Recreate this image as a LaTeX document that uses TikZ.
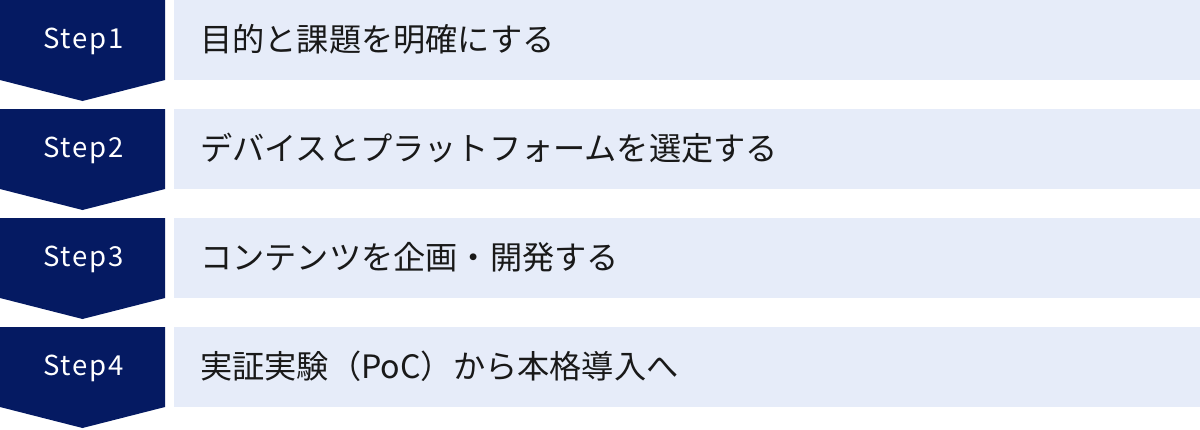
\documentclass[tikz,border=0pt]{standalone}
\usepackage{fontspec}
\setmainfont{Noto Sans CJK JP}
\newfontfamily\stepfont[LetterSpace=7]{Noto Sans CJK JP}
\definecolor{navy}{HTML}{051A62}
\definecolor{barbg}{HTML}{E6ECF9}
\tikzset{
  chev/.style={fill=navy},
  bar/.style={fill=barbg},
  steplabel/.style={text=white, font=\stepfont\fontsize{27.5}{32}\selectfont, inner sep=0pt, anchor=center},
  bartext/.style={text=black!90, font=\fontsize{32.2}{38}\selectfont, inner sep=0pt, anchor=west},
}
\begin{document}
\begin{tikzpicture}[x=1pt,y=-1pt]
\useasboundingbox (0,0) rectangle (1200,429);
\foreach \i/\txt in {1/目的と課題を明確にする,2/デバイスとプラットフォームを選定する,3/コンテンツを企画・開発する,4/実証実験（PoC）から本格導入へ}{
  \pgfmathsetmacro{\t}{109*(\i-1)}
  \fill[chev] (0,\t) -- (165,\t) -- ++(0,80) -- (82.5,\t+101) -- (0,\t+80) -- cycle;
  \fill[bar] (174,\t) rectangle (1200,\t+80);
  \node[steplabel] (s\i) at (83.5,\t+41) {Step\i};
  \node[bartext] (b\i) at (200,\t+39) {\txt};
}
\end{tikzpicture}
\end{document}
